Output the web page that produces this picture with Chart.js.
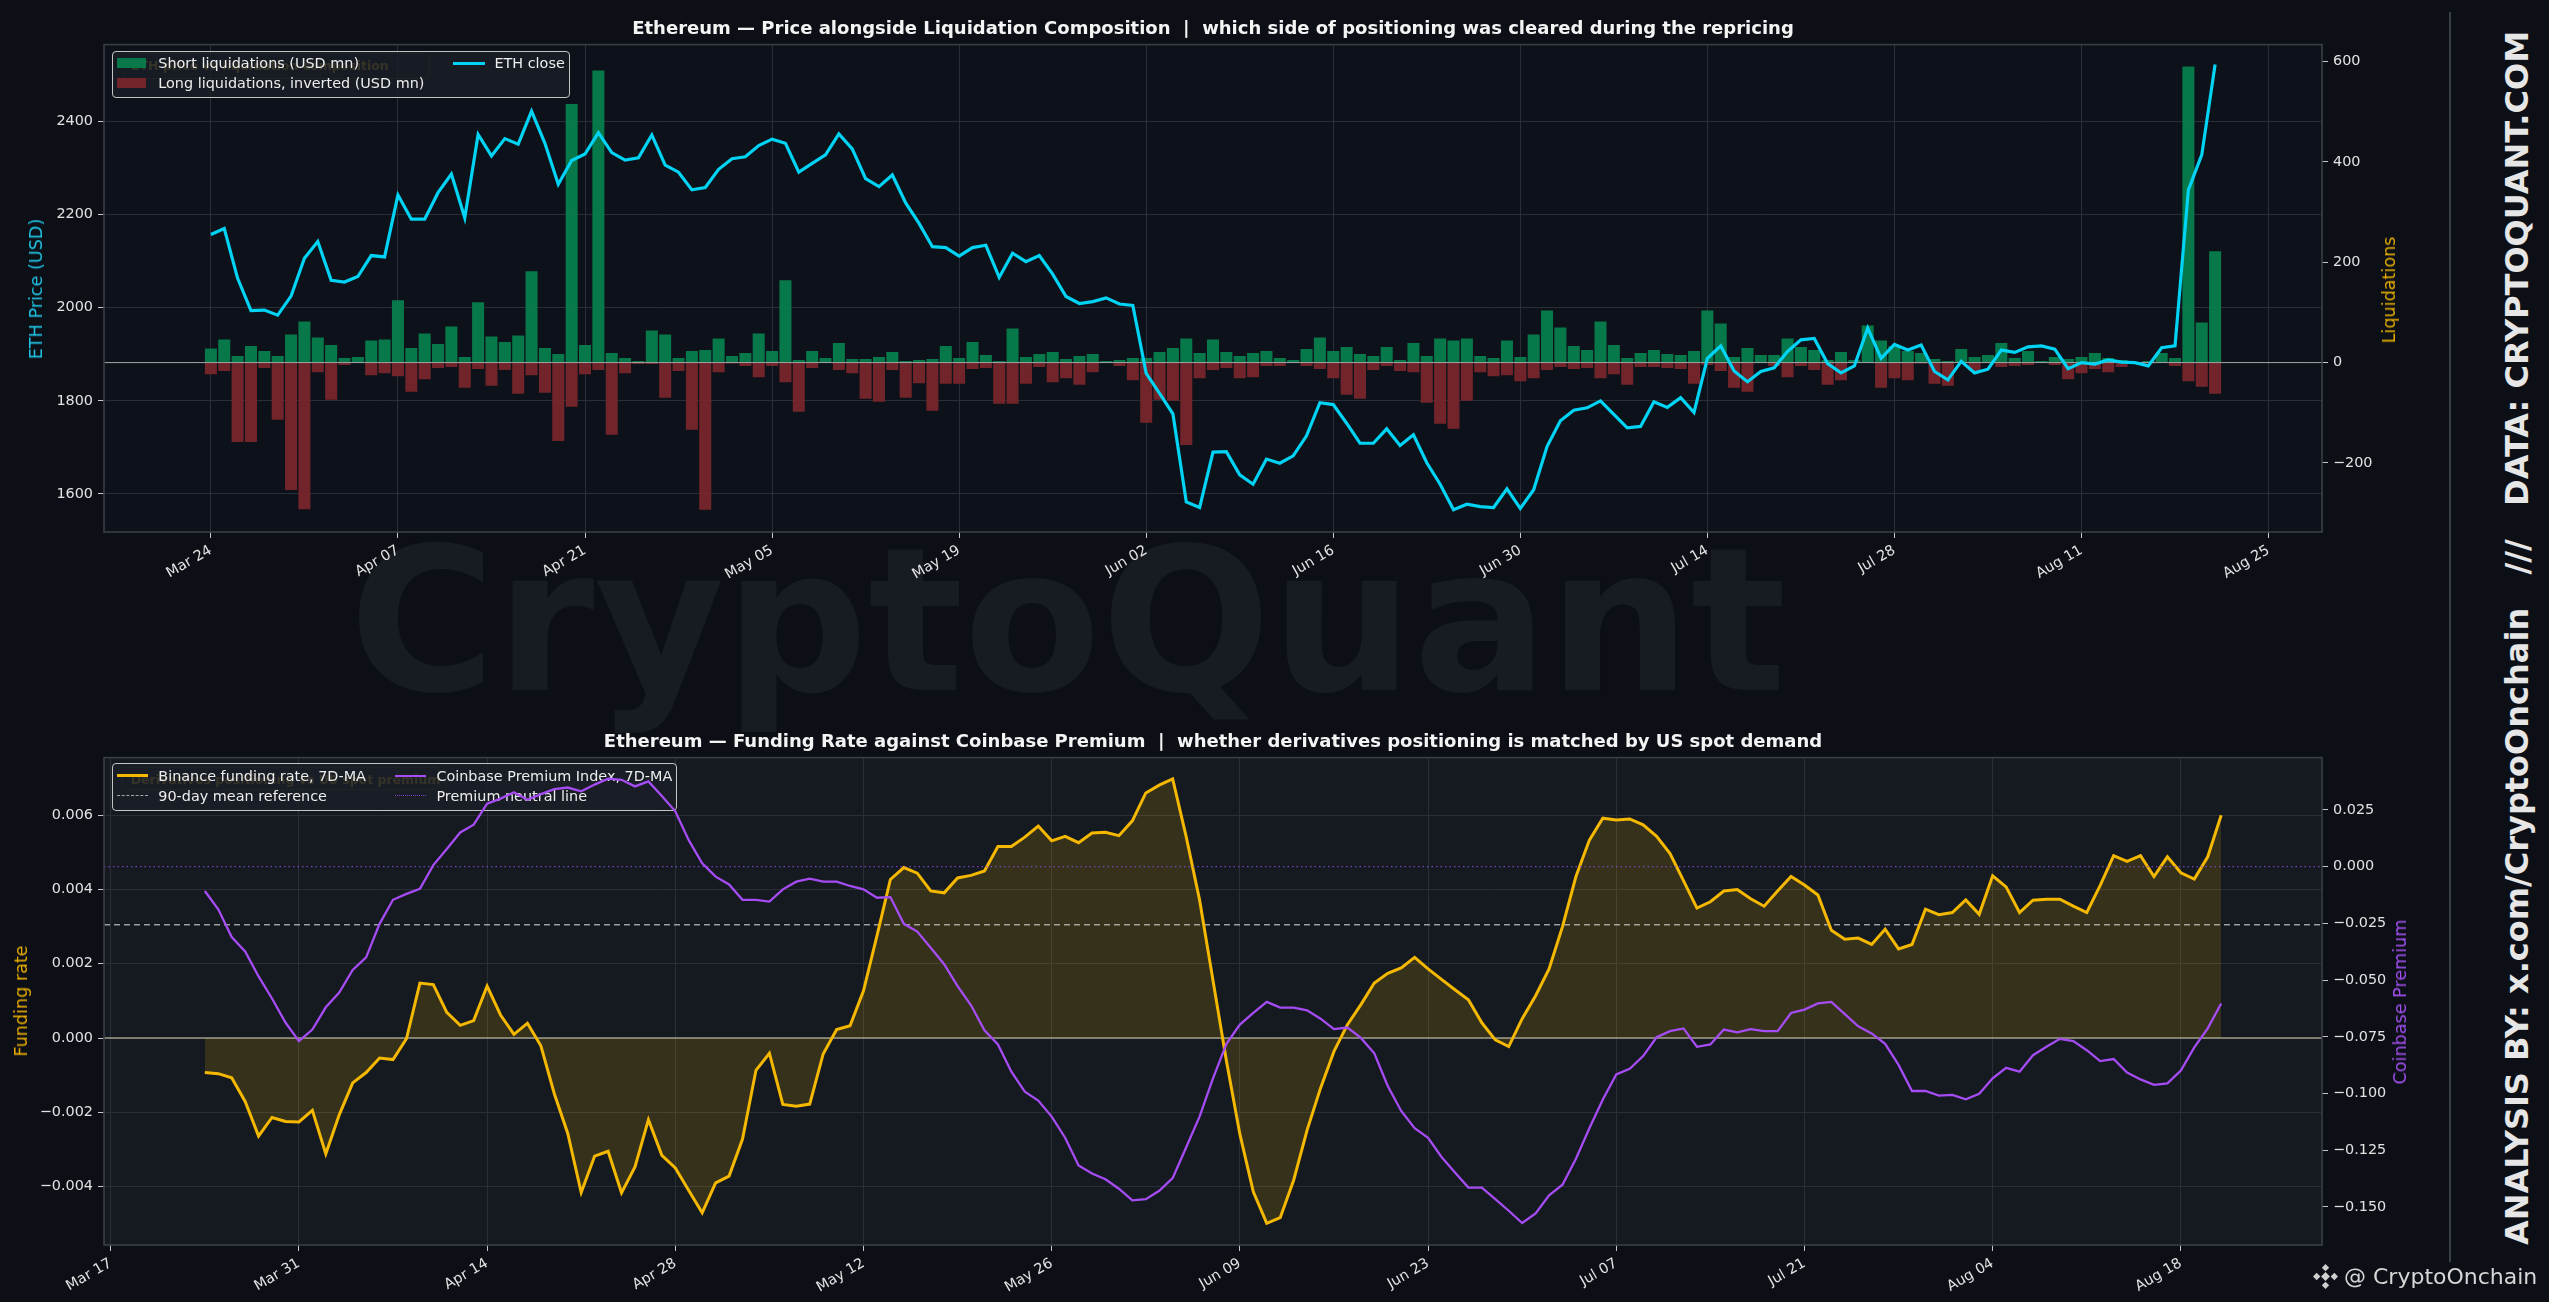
<!DOCTYPE html>
<html><head><meta charset="utf-8">
<script src="https://cdn.jsdelivr.net/npm/chart.js@4.4.1/dist/chart.umd.min.js"></script>
<style>
html,body{margin:0;padding:0;background:#0c0f16;}
body{width:2549px;height:1302px;position:relative;overflow:hidden;font-family:'DejaVu Sans',sans-serif;}
.abs{position:absolute;white-space:pre;}
#wm{left:349px;top:521px;font:bold 200px 'DejaVu Sans';color:#171b22;line-height:200px;}
.title{font:bold 18px 'DejaVu Sans';color:#f4f4f4;transform:translate(-50%,-50%);}
.legend{border:1.5px solid #c4c4c4;border-radius:4px;background:rgba(26,30,38,0.86);box-sizing:border-box;}
.ghost{border:1.3px dotted rgba(200,165,40,0.6);border-radius:6px;box-sizing:border-box;font:bold 12.5px 'DejaVu Sans';color:#dcb232;padding:4px 8px;}
.lgtxt{font:14.4px 'DejaVu Sans';color:#ededed;transform:translateY(-50%);}
.axt{font:17.6px 'DejaVu Sans';transform:translate(-50%,-50%) rotate(-90deg);}
.wrap{position:absolute;left:0;}
</style></head>
<body>
<div id="wm" class="abs">CryptoQuant</div>
<div class="wrap" style="top:0;width:2440px;height:620px;"><canvas id="c1" width="2440" height="620"></canvas></div>
<div class="wrap" style="top:700px;width:2440px;height:602px;"><canvas id="c2" width="2440" height="602"></canvas></div>
<div id="overlay"></div>
<div class="wrap" style="top:700px;width:2440px;height:602px;pointer-events:none;"><canvas id="c3" width="2440" height="602"></canvas></div>
<script>
// ---------------- DATA ----------------
const DAY_COUNT = 151; // daily points, Mar 24 .. Aug 21 (index 0 = Mar 24)
const ETH_CLOSE = [2157,2170,2063,1994,1995,1984,2025,2106,2142,2059,2055,2067,2112,2109,2242,2190,2190,2247,2287,2193,2372,2326,2363,2351,2422,2353,2265,2316,2330,2376,2333,2317,2322,2371,2306,2291,2253,2258,
2297,2320,2324,2348,2362,2353,2291,2310,2328,2373,2341,2277,2260,2285,2225,2181,2131,2129,2111,2129,2134,2065,2117,2099,2112,2072,2024,2009,2013,2021,2008,2005,1859,1816,1772,1583,1571,1690,
1691,1641,1621,1675,1666,1682,1725,1796,1792,1752,1709,1709,1740,1704,1727,1667,1621,1566,1578,1573,1571,1611,1569,1609,1702,1757,1780,1785,1800,1771,1742,1745,1798,1786,1807,1775,1891,1918,
1864,1841,1863,1871,1906,1931,1934,1880,1860,1875,1956,1891,1921,1909,1920,1863,1845,1885,1860,1868,1909,1904,1916,1918,1911,1869,1882,1879,1888,1883,1882,1875,1914,1918,2253,2328,2522];
const SHORT_LIQ = [28,46,13,33,23,13,56,82,50,35,9,11,44,46,124,29,58,37,72,11,120,52,41,54,182,29,17,515,35,582,19,9,3,64,56,9,23,25,
48,13,19,58,23,164,5,23,9,39,7,7,11,21,3,5,7,33,9,41,15,3,68,11,17,21,7,13,17,3,5,9,9,21,29,48,19,46,
21,13,19,23,9,5,27,50,23,31,17,13,31,5,39,13,48,44,48,13,9,44,11,56,104,70,33,25,82,35,9,19,25,17,15,23,104,78,
11,29,15,15,48,31,25,5,21,5,74,44,33,23,19,7,3,27,11,15,39,9,23,3,11,7,11,19,9,5,0,3,19,9,590,80,222];
const LONG_LIQ = [23,17,158,158,11,114,254,292,19,74,5,0,25,21,27,58,33,11,9,50,13,46,15,62,25,60,156,88,23,15,144,21,3,3,70,17,134,293,
19,2,7,29,7,39,98,11,0,15,21,72,78,15,70,41,96,42,42,13,11,82,82,42,9,39,31,44,19,0,7,35,120,74,76,164,31,15,
11,31,29,7,7,1,7,13,31,64,72,15,7,17,19,80,122,132,76,19,27,25,37,31,15,9,13,11,31,23,44,9,9,11,13,42,5,17,
50,58,0,7,29,7,15,44,35,0,1,50,31,35,2,42,46,0,17,0,9,7,5,0,5,33,21,13,19,9,2,2,0,7,37,48,62];
const FUNDING_7DMA = [-0.00093,-0.00096,-0.00107,-0.00171,-0.00264,-0.00214,-0.00225,-0.00226,-0.00195,-0.00312,-0.00207,-0.00121,-0.00093,-0.00054,-0.00058,-0.00002,0.00148,0.00144,0.00069,0.00034,0.00047,0.00140,0.00062,0.00010,0.00040,-0.00021,-0.00150,-0.00257,-0.00416,-0.00318,-0.00305,-0.00417,-0.00347,-0.00220,-0.00316,-0.00350,-0.00411,-0.00471,-0.00390,-0.00372,-0.00272,-0.00087,-0.00041,-0.00179,-0.00184,-0.00178,-0.00043,0.00023,0.00033,
0.00127,0.00275,0.00427,0.00459,0.00444,0.00396,0.00391,0.00431,0.00438,0.00450,0.00516,0.00516,0.00541,0.00571,0.00531,0.00543,0.00526,0.00552,0.00554,0.00545,0.00585,0.00660,0.00681,0.00698,0.00543,0.00372,0.00155,-0.00062,-0.00259,-0.00414,-0.00499,-0.00484,-0.00383,-0.00248,-0.00135,-0.00036,0.00036,0.00090,0.00148,0.00174,0.00189,0.00217,0.00186,0.00158,0.00130,0.00103,0.00041,-0.00005,-0.00023,0.00052,0.00114,0.00186,0.00300,0.00435,0.00533,0.00592,0.00587,0.00590,0.00574,0.00543,0.00497,0.00424,0.00350,
0.00367,0.00396,0.00400,0.00375,0.00355,0.00396,0.00435,0.00412,0.00385,0.00290,0.00266,0.00269,0.00252,0.00293,0.00240,0.00252,0.00347,0.00332,0.00338,0.00372,0.00333,0.00437,0.00407,0.00338,0.00371,0.00374,0.00374,0.00355,0.00338,0.00411,0.00491,0.00476,0.00491,0.00435,0.00488,0.00445,0.00428,0.00488,0.00600];
const PREMIUM_7DMA = [-0.0107,-0.0188,-0.0310,-0.0374,-0.0484,-0.0581,-0.0687,-0.0769,-0.0718,-0.0620,-0.0555,-0.0455,-0.0400,-0.0252,-0.0146,-0.0120,-0.0098,0.0007,0.0078,0.0151,0.0185,0.0278,0.0300,0.0328,0.0295,0.0320,0.0342,0.0349,0.0332,0.0362,0.0388,0.0383,0.0354,0.0376,0.0312,0.0244,0.0117,0.0015,-0.0044,-0.0078,-0.0146,-0.0146,-0.0154,-0.0100,-0.0066,-0.0053,-0.0066,-0.0066,-0.0085,
-0.0100,-0.0137,-0.0134,-0.0252,-0.0286,-0.0357,-0.0430,-0.0527,-0.0611,-0.0721,-0.0784,-0.0904,-0.0992,-0.1031,-0.1102,-0.1195,-0.1317,-0.1353,-0.1378,-0.1420,-0.1471,-0.1466,-0.1429,-0.1373,-0.1238,-0.1102,-0.0933,-0.0781,-0.0696,-0.0645,-0.0596,-0.0621,-0.0621,-0.0633,-0.0670,-0.0716,-0.0709,-0.0755,-0.0823,-0.0967,-0.1077,-0.1153,-0.1195,-0.1280,-0.1348,-0.1415,-0.1415,-0.1466,-0.1517,-0.1571,-0.1529,-0.1449,-0.1402,-0.1288,-0.1153,-0.1026,-0.0916,-0.0891,-0.0835,-0.0752,-0.0725,-0.0713,-0.0794,
-0.0784,-0.0718,-0.0730,-0.0716,-0.0725,-0.0725,-0.0645,-0.0630,-0.0603,-0.0596,-0.0650,-0.0704,-0.0735,-0.0781,-0.0874,-0.0989,-0.0989,-0.1009,-0.1006,-0.1026,-0.1001,-0.0933,-0.0887,-0.0904,-0.0831,-0.0794,-0.0759,-0.0769,-0.0809,-0.0857,-0.0848,-0.0908,-0.0938,-0.0962,-0.0955,-0.0899,-0.0797,-0.0713,-0.0603];
const FUNDING_90D_MEAN = 0.00305;
const PREMIUM_NEUTRAL = 0;

const TOP_X_TICK_DAYS = [0,14,28,42,56,70,84,98,112,126,140,154];
const TOP_X_TICK_LABELS = ['Mar 24','Apr 07','Apr 21','May 05','May 19','Jun 02','Jun 16','Jun 30','Jul 14','Jul 28','Aug 11','Aug 25'];
const BOT_X_TICK_DAYS = [-7,7,21,35,49,63,77,91,105,119,133,147];
const BOT_X_TICK_LABELS = ['Mar 17','Mar 31','Apr 14','Apr 28','May 12','May 26','Jun 09','Jun 23','Jul 07','Jul 21','Aug 04','Aug 18'];
const PRICE_TICKS = [1600,1800,2000,2200,2400];
const LIQ_TICKS = [-200,0,200,400,600];
const FUNDING_TICKS = [-0.004,-0.002,0,0.002,0.004,0.006];
const PREMIUM_TICKS = [-0.150,-0.125,-0.100,-0.075,-0.050,-0.025,0,0.025];

const TOP_TITLE = 'Ethereum \u2014 Price alongside Liquidation Composition  |  which side of positioning was cleared during the repricing';
const BOT_TITLE = 'Ethereum \u2014 Funding Rate against Coinbase Premium  |  whether derivatives positioning is matched by US spot demand';
const TOP_SERIES = ['Short liquidations (USD mn)','Long liquidations, inverted (USD mn)','ETH close'];
const BOT_SERIES = ['Binance funding rate, 7D-MA','Coinbase Premium Index, 7D-MA','90-day mean reference','Premium neutral line'];

// ---------------- STYLE ----------------
const CYAN='#00d3f3', GREEN='rgba(8,128,78,0.93)', RED='rgba(122,38,44,0.93)', GOLD='#f5b800', PURPLE='#a64cf4';
const GRID='#2a2e37', TICKMARK='#c8c8c8', TICKCOL='#e2e2e2';
Chart.defaults.font.family="'DejaVu Sans', sans-serif";
Chart.defaults.color=TICKCOL;

const frame={id:'frame',
  beforeDraw(c,a,o){const x=c.ctx,r=c.chartArea;x.save();x.fillStyle=o.bg;x.fillRect(r.left,r.top,r.right-r.left,r.bottom-r.top);x.restore();},
  afterDraw(c,a,o){const x=c.ctx,r=c.chartArea;x.save();x.strokeStyle=o.line;x.lineWidth=1.6;x.strokeRect(r.left,r.top,r.right-r.left,r.bottom-r.top);x.restore();}};

const minus=s=>s.replace('-','\u2212');
function xAxis(min,max,days,labels,h){return {type:'linear',min,max,offset:false,
  afterBuildTicks:s=>{s.ticks=days.map(v=>({value:v}));},afterFit:s=>{s.height=h;},
  ticks:{autoSkip:false,minRotation:30,maxRotation:30,padding:4,color:TICKCOL,font:{size:14.4},callback:v=>labels[days.indexOf(v)]},
  grid:{color:GRID,lineWidth:1,drawTicks:true,tickLength:6,tickColor:TICKMARK,offset:false},border:{display:false}};}
function yAxis(pos,min,max,ticks,fmt,w,grid){return {type:'linear',position:pos,min,max,
  afterBuildTicks:s=>{s.ticks=ticks.map(v=>({value:v}));},afterFit:s=>{s.width=w;},
  ticks:{color:TICKCOL,font:{size:14.4},padding:5,callback:fmt},
  grid:{color:GRID,lineWidth:1,drawOnChartArea:grid,drawTicks:true,tickLength:6,tickColor:TICKMARK},border:{display:false}};}
const pts=(arr,f)=>arr.map((v,i)=>({x:i,y:f?f(v):v}));

new Chart(document.getElementById('c1'),{type:'line',
  data:{datasets:[
    {label:TOP_SERIES[2],data:pts(ETH_CLOSE),yAxisID:'y',borderColor:CYAN,borderWidth:3.2,pointRadius:0,tension:0,order:0},
    {label:'zero',data:[{x:-8,y:0},{x:158,y:0}],yAxisID:'y1',borderColor:'rgba(215,215,215,0.75)',borderWidth:1,pointRadius:0,order:1},
    {type:'bar',label:TOP_SERIES[0],data:pts(SHORT_LIQ),yAxisID:'y1',backgroundColor:GREEN,grouped:false,barPercentage:0.9,categoryPercentage:1,order:2},
    {type:'bar',label:TOP_SERIES[1],data:pts(LONG_LIQ,v=>-v),yAxisID:'y1',backgroundColor:RED,grouped:false,barPercentage:0.9,categoryPercentage:1,order:3}
  ]},
  options:{responsive:false,animation:false,devicePixelRatio:1,layout:{padding:{top:44.6,left:0,right:0,bottom:0}},
    plugins:{legend:{display:false},tooltip:{enabled:false},frame:{bg:'#0d1119',line:'#3a3e47'}},
    scales:{x:xAxis(-8,158,TOP_X_TICK_DAYS,TOP_X_TICK_LABELS,88),
      y:yAxis('left',1518.4,2564.9,PRICE_TICKS,v=>String(v),104,true),
      y1:yAxis('right',-337.5,633.5,LIQ_TICKS,v=>minus(String(v)),118,false)}},
  plugins:[frame]});

new Chart(document.getElementById('c2'),{type:'line',
  data:{datasets:[
    {label:BOT_SERIES[3],data:[{x:-7.5,y:PREMIUM_NEUTRAL},{x:157.5,y:PREMIUM_NEUTRAL}],yAxisID:'y1',borderColor:'rgba(140,70,220,0.85)',borderDash:[1.5,3],borderWidth:1.3,pointRadius:0,order:1},
    {label:BOT_SERIES[0],data:pts(FUNDING_7DMA),yAxisID:'y',borderColor:GOLD,borderWidth:3,pointRadius:0,tension:0,order:2,
      fill:{target:'origin',above:'rgba(245,185,0,0.15)',below:'rgba(245,185,0,0.15)'},backgroundColor:'rgba(245,185,0,0.15)'},
    {label:BOT_SERIES[2],data:[{x:-7.5,y:FUNDING_90D_MEAN},{x:157.5,y:FUNDING_90D_MEAN}],yAxisID:'y',borderColor:'rgba(200,200,200,0.75)',borderDash:[6,4],borderWidth:1.3,pointRadius:0,order:3},
    {label:'zero',data:[{x:-7.5,y:0},{x:157.5,y:0}],yAxisID:'y',borderColor:'rgba(200,195,170,0.75)',borderWidth:1.3,pointRadius:0,order:4}
  ]},
  options:{responsive:false,animation:false,devicePixelRatio:1,layout:{padding:{top:57.6,left:0,right:0,bottom:0}},
    plugins:{legend:{display:false},tooltip:{enabled:false},filler:{drawTime:'beforeDatasetsDraw'},frame:{bg:'#151920',line:'#3a3e47'}},
    scales:{x:xAxis(-7.5,157.5,BOT_X_TICK_DAYS,BOT_X_TICK_LABELS,57),
      y:yAxis('left',-0.005575,0.007552,FUNDING_TICKS,v=>minus(v.toFixed(3)),104,true),
      y1:yAxis('right',-0.1668,0.0481,PREMIUM_TICKS,v=>minus(v.toFixed(3)),118,false)}},
  plugins:[frame]});

// premium line on its own (twin-axis) layer, drawn above the lower legend like the original
new Chart(document.getElementById('c3'),{type:'line',
  data:{datasets:[
    {label:BOT_SERIES[1],data:pts(PREMIUM_7DMA),yAxisID:'y1',borderColor:PURPLE,borderWidth:2.3,pointRadius:0,tension:0}
  ]},
  options:{responsive:false,animation:false,devicePixelRatio:1,layout:{padding:{top:57.6,left:104,right:118,bottom:57}},
    plugins:{legend:{display:false},tooltip:{enabled:false}},
    scales:{x:{type:'linear',min:-7.5,max:157.5,display:false},
      y1:{type:'linear',position:'right',min:-0.1668,max:0.0481,display:false}}}});

// ---------------- HTML TEXT OVERLAYS ----------------
const ov=document.getElementById('overlay');
function el(cls,style,html){const d=document.createElement('div');d.className='abs '+cls;d.setAttribute('style',style);if(html!==undefined)d.textContent=html;ov.appendChild(d);return d;}
el('title','left:1213px;top:26.5px;',TOP_TITLE);
el('title','left:1213px;top:740px;',BOT_TITLE);
el('axt','left:36px;top:289px;color:#1fc2e2;','ETH Price (USD)');
el('axt','left:2389px;top:290px;color:#e3ad00;','Liquidations');
el('axt','left:20.5px;top:1001px;color:#e9ad00;','Funding rate');
el('axt','left:2400px;top:1002px;color:#a24ff0;','Coinbase Premium');

// top legend
el('ghost','left:122px;top:53px;width:308px;height:26px;','ETH price vs liquidation composition');
el('legend','left:112px;top:50.7px;width:458px;height:47px;');
el('','left:117px;top:58.2px;width:29px;height:9.6px;background:'+GREEN+';');
el('lgtxt','left:158.3px;top:63px;',TOP_SERIES[0]);
el('','left:117px;top:78.2px;width:29px;height:9.6px;background:'+RED+';');
el('lgtxt','left:158.3px;top:83px;',TOP_SERIES[1]);
el('','left:452.6px;top:61.5px;width:32.4px;height:3px;background:'+CYAN+';');
el('lgtxt','left:494.4px;top:63px;',TOP_SERIES[2]);

// bottom legend
el('ghost','left:121.7px;top:766.7px;width:318px;height:23.5px;','Derivatives positioning vs US spot premium');
el('legend','left:112px;top:763px;width:565px;height:48px;');
el('','left:116.7px;top:774.3px;width:31px;height:3px;background:'+GOLD+';');
el('lgtxt','left:158.3px;top:775.7px;',BOT_SERIES[0]);
el('','left:116.7px;top:795.3px;width:31px;height:0;border-top:1.3px dashed rgba(200,200,200,0.8);');
el('lgtxt','left:158.3px;top:796px;',BOT_SERIES[2]);
el('','left:394.6px;top:774.5px;width:31px;height:2.5px;background:'+PURPLE+';');
el('lgtxt','left:436.4px;top:775.7px;',BOT_SERIES[1]);
el('','left:394.6px;top:795.3px;width:31px;height:0;border-top:1.3px dotted rgba(140,70,220,0.9);');
el('lgtxt','left:436.4px;top:796px;',BOT_SERIES[3]);

// right side branding
el('','left:2449px;top:12px;width:2px;height:1250px;background:#3a3e46;');
el('','left:2517px;top:637.5px;transform:translate(-50%,-50%) rotate(-90deg);font:bold 32px \'DejaVu Sans\';color:#e6e6e6;','ANALYSIS BY: x.com/CryptoOnchain   ///   DATA: CRYPTOQUANT.COM');
const brand=el('','left:2312px;top:1262px;height:28px;display:flex;align-items:center;gap:5px;font:22px \'DejaVu Sans\';color:#d6d6d6;');
brand.innerHTML='<svg width="27" height="27" viewBox="0 0 26 26"><g fill="#cfcfcf"><rect x="10" y="10" width="6" height="6" transform="rotate(45 13 13)"/><rect x="10.5" y="2" width="5" height="5" transform="rotate(45 13 4.5)"/><rect x="10.5" y="19" width="5" height="5" transform="rotate(45 13 21.5)"/><rect x="2" y="10.5" width="5" height="5" transform="rotate(45 4.5 13)"/><rect x="19" y="10.5" width="5" height="5" transform="rotate(45 21.5 13)"/></g></svg><span>@ CryptoOnchain</span>';
</script>
</body></html>
